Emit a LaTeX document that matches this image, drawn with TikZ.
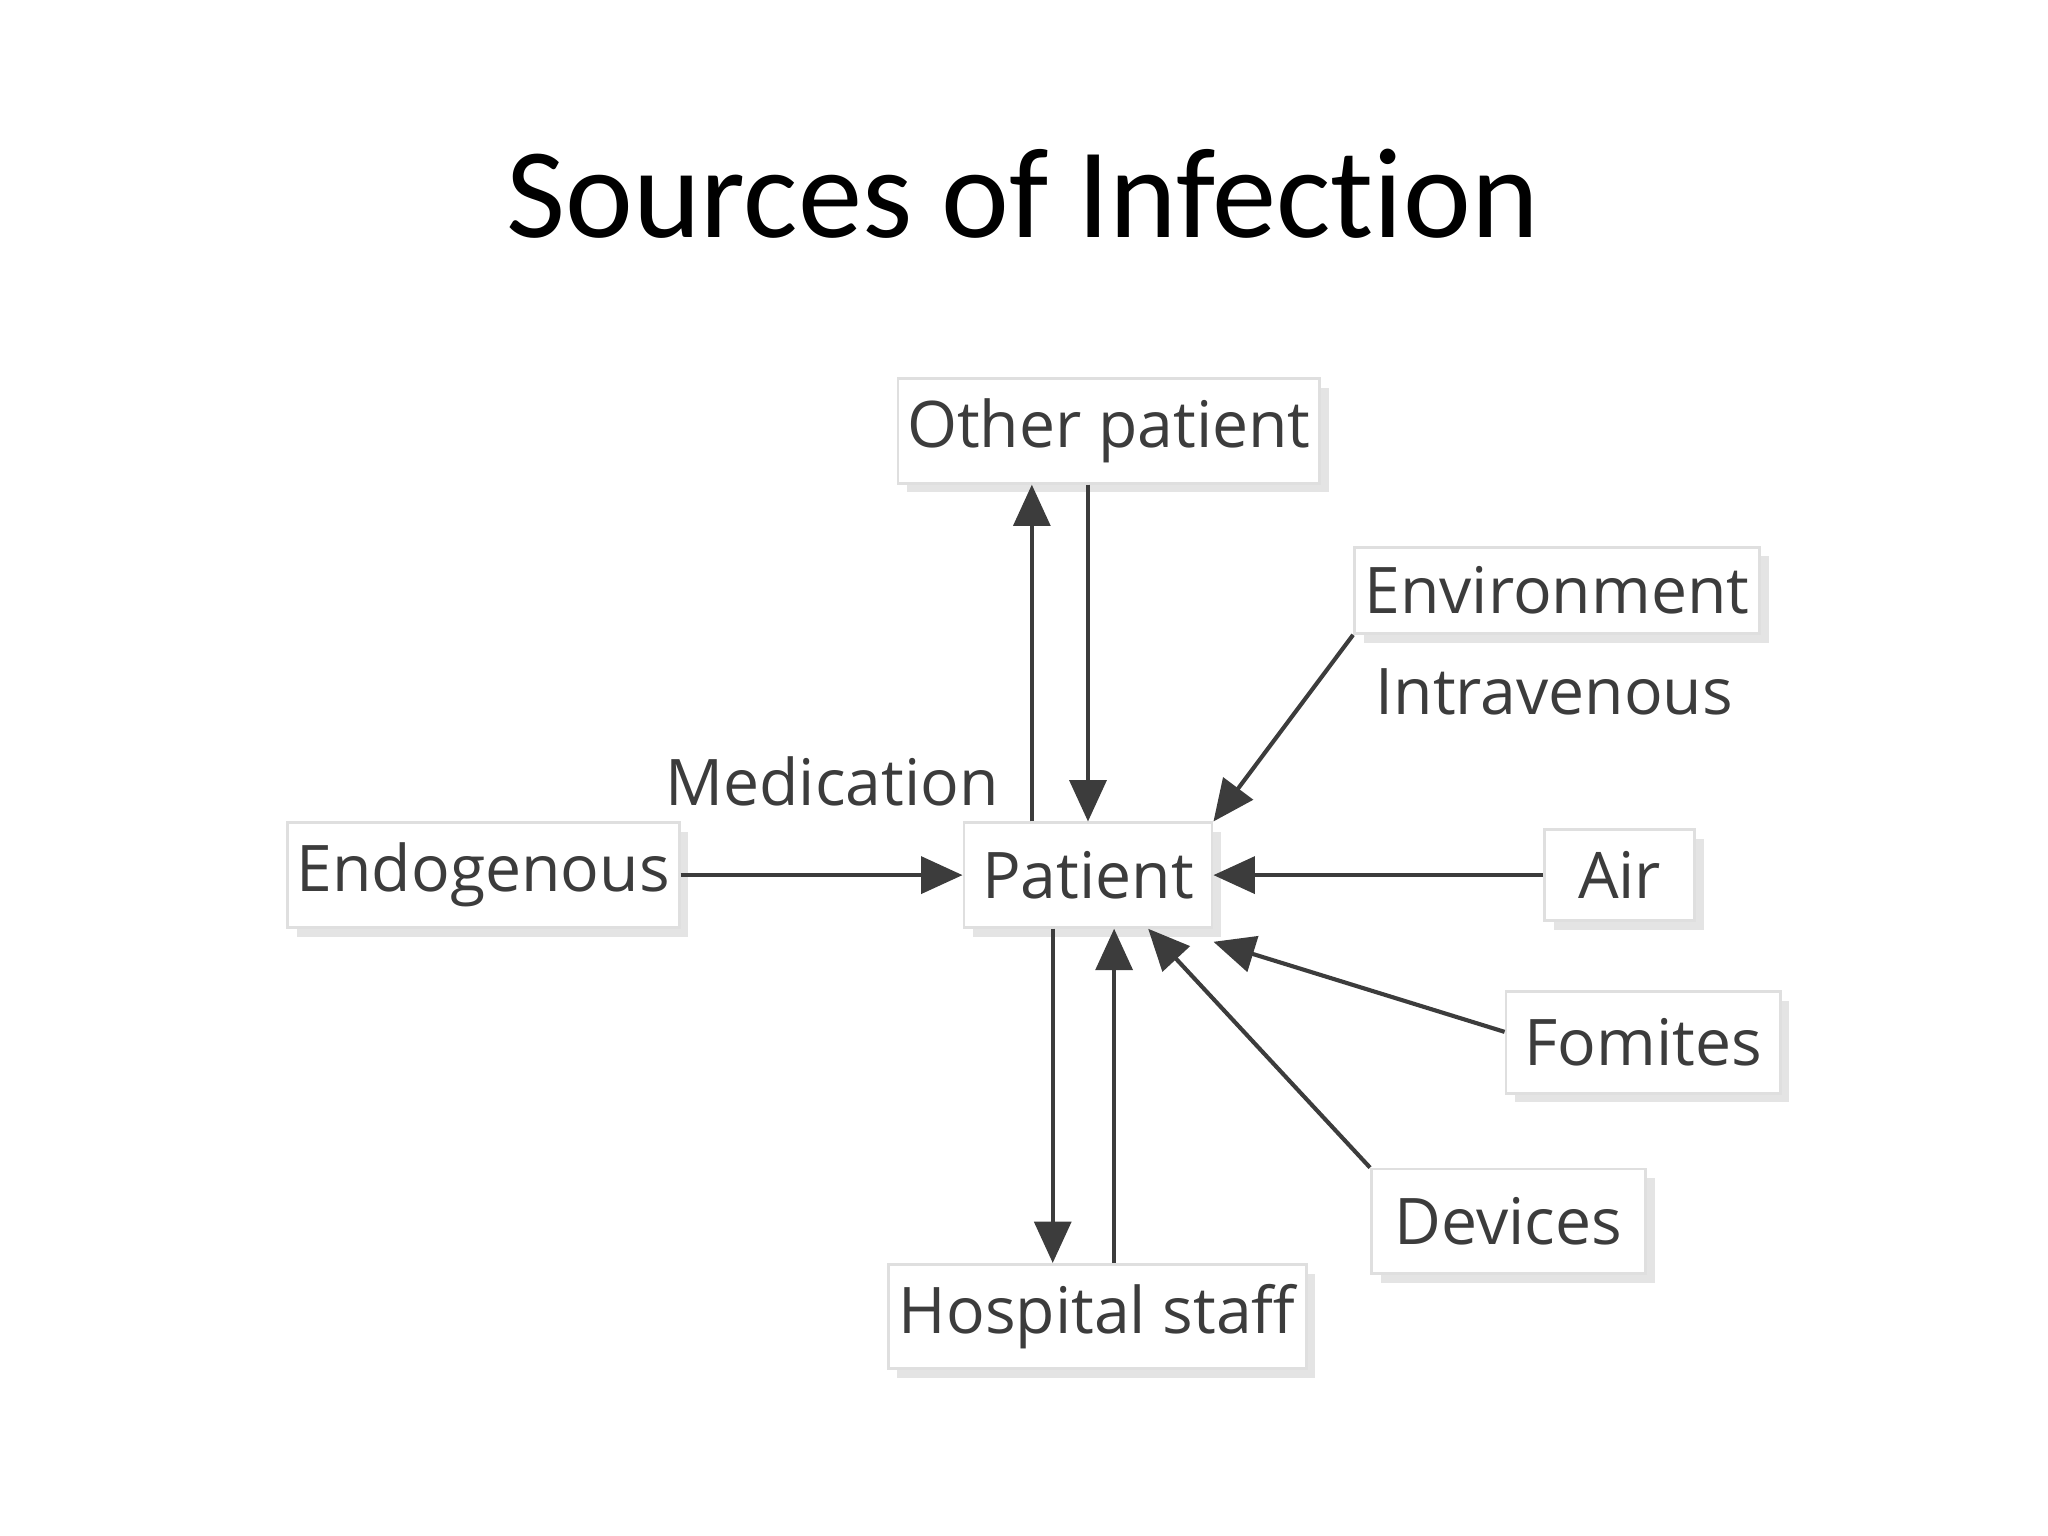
\documentclass[tikz,border=0pt]{standalone}
\usepackage{fontspec}
\setmainfont{Carlito}[Ligatures={NoCommon}]
\newfontfamily\boxfont{Open Sans}
\usetikzlibrary{arrows.meta,shadows}
\definecolor{ink}{HTML}{3C3C3C}
\tikzset{
  x=0.1mm,y=-0.1mm,
  bx/.style={draw=gray!25,line width=0.6pt,fill=white,inner xsep=2pt,inner ysep=3pt,
    font=\boxfont\fontsize{14}{17}\selectfont,text=ink,
    drop shadow={shadow xshift=2pt,shadow yshift=-2pt,fill=gray!35,opacity=0.6}},
  lbl/.style={font=\boxfont\fontsize{14}{17}\selectfont,text=ink},
  ar/.style={draw=ink,line width=0.9pt,-{Triangle[length=9pt,width=8pt]}}
}
\begin{document}
\begin{tikzpicture}
\useasboundingbox (0,0) rectangle (1568,1176);
\node[font=\fontsize{28}{33}\selectfont] (title) at (783,148) {Sources of Infection};
\node[bx,minimum width=32mm,minimum height=8mm] (other) at (849,330) {Other patient};
\node[bx,minimum width=31mm,minimum height=6.6mm] (env) at (1192,452) {Environment};
\node[lbl] (iv) at (1190,530) {Intravenous};
\node[lbl] (med) at (637,598) {Medication};
\node[bx,minimum width=30mm,minimum height=8mm] (endo) at (370,670) {Endogenous};
\node[bx,minimum width=19mm,minimum height=8mm] (pat) at (833,670) {Patient};
\node[bx,minimum width=11.5mm,minimum height=7mm] (air) at (1240,670) {Air};
\node[bx,minimum width=21mm,minimum height=7.8mm] (fom) at (1258,798) {Fomites};
\node[bx,minimum width=21mm,minimum height=8mm] (dev) at (1155,935) {Devices};
\node[bx,minimum width=32mm,minimum height=8mm] (hosp) at (840,1008) {Hospital staff};
\draw[ar] (pat.north -| 790,0) -- (other.south -| 790,0);
\draw[ar] (other.south -| 833,0) -- (pat.north -| 833,0);
\draw[ar] (env.south west) -- (pat.north east);
\draw[ar] (endo.east) -- (pat.west);
\draw[ar] (air.west) -- (pat.east);
\draw[ar] (fom.west) ++(0,-8) -- ([yshift=-1mm]pat.south east);
\draw[ar] (dev.north west) -- ([xshift=-5mm]pat.south east);
\draw[ar] (pat.south -| 806,0) -- (hosp.north -| 806,0);
\draw[ar] (hosp.north -| 853,0) -- (pat.south -| 853,0);
\end{tikzpicture}
\end{document}
